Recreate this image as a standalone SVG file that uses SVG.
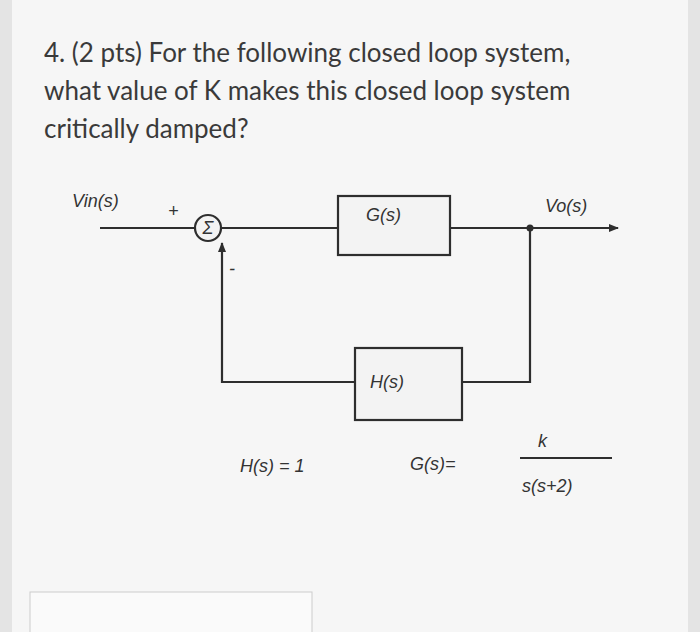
<svg xmlns="http://www.w3.org/2000/svg" width="700" height="632" viewBox="0 0 700 632">
<defs>
<style>
.q{font-family:"Lato","Liberation Sans",sans-serif;font-size:26px;fill:#3a3a3a}
.h{font-family:"Liberation Sans",sans-serif;font-size:18px;fill:#333;font-style:italic}
.w{fill:none;stroke:#2e2e2e;stroke-width:2.2}
.b{fill:#f3f3f3;stroke:#2e2e2e;stroke-width:2.2}
</style>
<marker id="a" markerWidth="10" markerHeight="8" refX="9" refY="4" orient="auto" markerUnits="userSpaceOnUse"><path d="M0,0 L10,4 L0,8 Z" fill="#2e2e2e"/></marker>
</defs>
<rect width="700" height="632" fill="#e4e4e4"/>
<rect x="12" y="0" width="676" height="632" fill="#f6f6f6"/>
<text class="q" x="44" y="62">4. (2 pts) For the following closed loop system,</text>
<text class="q" x="44" y="100">what value of K makes this closed loop system</text>
<text class="q" x="44" y="138">critically damped?</text>
<g id="connectors">
<path class="w" d="M100,228 H195"/>
<path class="w" d="M221,228 H338"/>
<path class="w" d="M450,228 H618" marker-end="url(#a)"/>
<path class="w" d="M530,228 V382 H462"/>
<path class="w" d="M355,382 H222 V243" marker-end="url(#a)"/>
<circle cx="530" cy="228" r="3.5" fill="#2e2e2e"/>
</g>
<g id="sum">
<circle cx="208" cy="228" r="13" class="b"/>
<text class="h" x="208" y="234" text-anchor="middle" font-size="15">Σ</text>
<text class="h" x="168" y="217" font-size="22">+</text>
<text class="h" x="229" y="275" font-size="22">-</text>
</g>
<g id="G"><rect class="b" x="338" y="196" width="112" height="59"/><text class="h" x="366" y="221">G(s)</text></g>
<g id="H"><rect class="b" x="355" y="348" width="107" height="72"/><text class="h" x="370" y="388">H(s)</text></g>
<text class="h" x="72" y="207">Vin(s)</text>
<text class="h" x="545" y="212">Vo(s)</text>
<text class="h" x="240" y="472" font-size="22">H(s) = 1</text>
<text class="h" x="410" y="470" font-size="22">G(s)=</text>
<text class="h" x="538" y="447" font-size="22">k</text>
<path class="w" d="M520,458 H612"/>
<text class="h" x="522" y="492" font-size="20">s(s+2)</text>
<rect x="30" y="592" width="282" height="45" fill="#fafafa" stroke="#ccc"/>
</svg>
